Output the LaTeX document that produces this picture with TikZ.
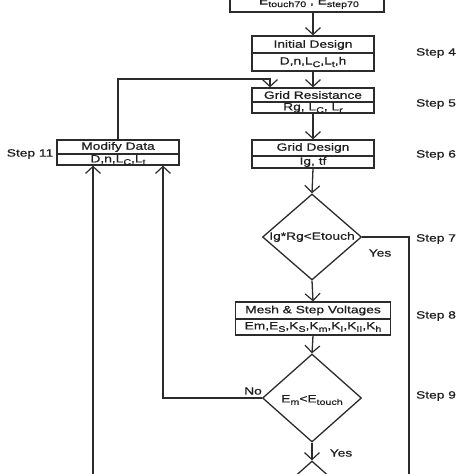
\documentclass[tikz,border=0pt]{standalone}
\usepackage{fontspec}
\setmainfont{Liberation Sans}[FakeStretch=1.3,FakeBold=0.6]
\usetikzlibrary{shapes.geometric,arrows.meta}
\definecolor{lc}{HTML}{2B2B2B}
\definecolor{tc}{HTML}{1E1E1E}
\newcommand\sbx[1]{\raisebox{-0.45ex}{\fontsize{8.2}{9}\selectfont #1}}
\begin{document}
\begin{tikzpicture}[x=1pt,y=-1pt,
  line width=1.3pt, draw=lc, text=tc,
  font=\fontsize{10.6}{12}\selectfont,
  box/.style={draw=lc, line width=1.3pt, rectangle, minimum width=122pt, inner sep=0pt},
  dia/.style={draw=lc, line width=1.3pt, diamond, minimum width=99pt, inner sep=0pt},
  txt/.style={inner sep=0pt, anchor=center},
  steplbl/.style={inner sep=0pt, anchor=center},
  arr/.style={-{Straight Barb[length=7pt,width=15pt,line width=1.2pt]}}]
\useasboundingbox (0,0) rectangle (474,474);
\clip (0,0) rectangle (474,474);

% boxes
\node[box, minimum width=154pt, minimum height=40pt] (top) at (307,-8) {};
\node[txt] (toptxt) at (309,3) {E\sbx{touch70} , E\sbx{step70}};

\node[box, minimum height=35pt] (init) at (313,53.5) {};
\draw (init.west |- 0,53) -- (init.east |- 0,53);
\node[txt] (init1) at (313,45) {Initial Design};
\node[txt] (init2) at (313,62) {D,n,L\sbx{C},L\sbx{t},h};

\node[box, minimum height=25pt] (gres) at (313,100.5) {};
\draw (gres.west |- 0,102) -- (gres.east |- 0,102);
\node[txt] (gres1) at (313,95) {Grid Resistance};
\node[txt] (gres2) at (313,108) {Rg, L\sbx{C}, L\sbx{r}};

\node[box, minimum height=28pt] (gdes) at (313,154) {};
\draw (gdes.west |- 0,156) -- (gdes.east |- 0,156);
\node[txt] (gdes1) at (313,148) {Grid Design};
\node[txt] (gdes2) at (313,162) {Ig, tf};

\node[box, minimum height=25pt] (mod) at (118,152.5) {};
\draw (mod.west |- 0,154) -- (mod.east |- 0,154);
\node[txt] (mod1) at (118,147) {Modify Data};
\node[txt] (mod2) at (118,160) {D,n,L\sbx{C},L\sbx{t}};

\node[dia, minimum height=86pt] (d1) at (312,237) {};
\node[txt] (d1t) at (312,237) {Ig*Rg<Etouch};

\node[box, minimum width=155pt, minimum height=33pt] (mesh) at (313,318.5) {};
\draw (mesh.west |- 0,319) -- (mesh.east |- 0,319);
\node[txt] (mesh1) at (313,310.5) {Mesh \& Step Voltages};
\node[txt] (mesh2) at (313,327) {Em,E\sbx{S},K\sbx{S},K\sbx{m},K\sbx{I},K\sbx{II},K\sbx{h}};

\node[dia, minimum height=88pt] (d2) at (312,398) {};
\node[txt] (d2t) at (312,400) {E\sbx{m}<E\sbx{touch}};

\node[dia, minimum height=88pt] (d3) at (312,505) {};

% step labels
\node[steplbl] (s4) at (436,53) {Step 4};
\node[steplbl] (s5) at (436,104) {Step 5};
\node[steplbl] (s6) at (436,155) {Step 6};
\node[steplbl] (s7) at (436,239) {Step 7};
\node[steplbl] (s8) at (436,316) {Step 8};
\node[steplbl] (s9) at (436,396) {Step 9};
\node[steplbl] (s11) at (30,154) {Step 11};

% yes/no labels
\node[txt] (yes1) at (380,253) {Yes};
\node[txt] (no2) at (253,391) {No};
\node[txt] (yes2) at (341,453) {Yes};

% connectors
\draw[arr] (init.north |- top.south) -- (init.north);
\draw[arr] (init.south) -- (gres.north);
\coordinate (j) at (270,79);
\draw[arr] (mod.north) |- (j) -- (j |- gres.north);
\draw[arr] (gres.south) -- (gdes.north);
\draw[arr] (gdes.south) -- (d1.north);
\draw[arr] (d1.south) -- (mesh.north);
\draw[arr] (mesh.south) -- (d2.north);
\draw[arr] (d2.south) -- (d3.north);
\coordinate (r1) at (409,480);
\draw (d1.east) -| (r1);
\coordinate (m2) at (163,0);
\draw[arr] (d2.west) -| (m2 |- mod.south);
\coordinate (l1) at (93,480);
\draw[arr] (l1) -- (l1 |- mod.south);
\end{tikzpicture}
\end{document}
